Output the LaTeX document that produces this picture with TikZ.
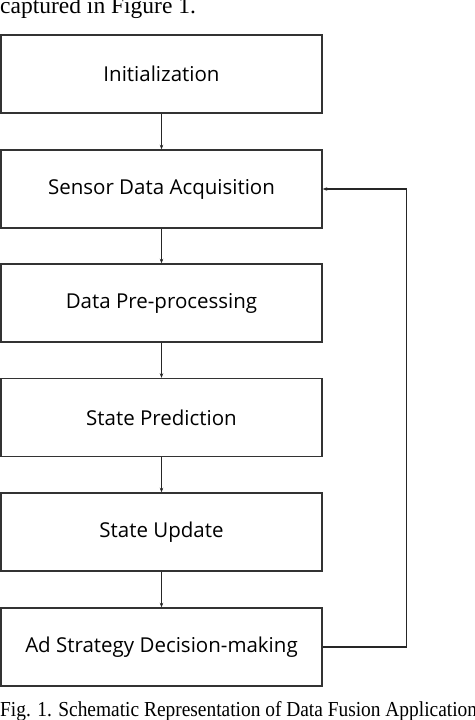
\documentclass[tikz,border=0pt]{standalone}
\usepackage{fontspec}
\setmainfont{Liberation Serif}
\newfontfamily\boxfont{Open Sans}
\usetikzlibrary{arrows.meta}
\begin{document}
\begin{tikzpicture}[x=1pt,y=-1pt,
  stepbox/.style={draw=black!80,line width=1.4pt,minimum width=321pt,minimum height=78pt,inner sep=0pt,font=\boxfont\fontsize{20.5}{22}\selectfont,text=black},
  conn/.style={draw=black!85,line width=1pt,-{Stealth[length=4.5pt,width=3.5pt]}}]
\useasboundingbox (0,0) rectangle (474,720);
\node[anchor=base west,inner sep=0pt,font=\fontsize{23.5}{26}\selectfont] (top) at (0,13) {captured in Figure 1.};
\node[stepbox] (b1) at (161.5,74) {Initialization};
\node[stepbox] (b2) at (161.5,189) {Sensor Data Acquisition};
\node[stepbox] (b3) at (161.5,303) {Data Pre-processing};
\node[stepbox] (b4) at (161.5,417.5) {State Prediction};
\node[stepbox] (b5) at (161.5,532) {State Update};
\node[stepbox] (b6) at (161.5,647) {Ad Strategy Decision-making};
\node[anchor=base west,inner sep=0pt,font=\fontsize{19.4}{22}\selectfont,yscale=1.1] (cap) at (0,716) {Fig. 1. Schematic Representation of Data Fusion Application};
\coordinate (r) at (406.5,0);
\draw[conn] (b1) -- (b2);
\draw[conn] (b2) -- (b3);
\draw[conn] (b3) -- (b4);
\draw[conn] (b4) -- (b5);
\draw[conn] (b5) -- (b6);
\draw[conn,line width=1.2pt] (b6.east) -- (b6.east -| r) -- (b2.east -| r) -- (b2.east);
\end{tikzpicture}
\end{document}
